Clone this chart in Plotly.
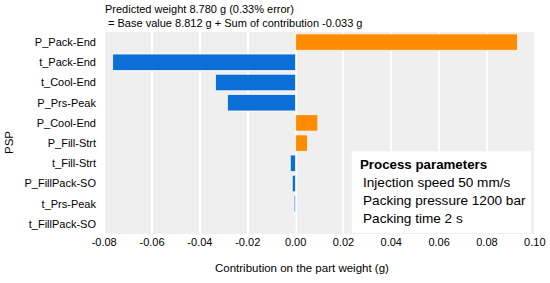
import plotly.graph_objects as go

categories = ["P_Pack-End", "t_Pack-End", "t_Cool-End", "P_Prs-Peak", "P_Cool-End",
              "P_Fill-Strt", "t_Fill-Strt", "P_FillPack-SO", "t_Prs-Peak", "t_FillPack-SO"]
values = [0.0928, -0.0765, -0.0335, -0.0285, 0.0093, 0.0050, -0.0022, -0.0014, -0.0006, -0.0002]
x_ticks = [-0.08, -0.06, -0.04, -0.02, 0.00, 0.02, 0.04, 0.06, 0.08, 0.10]
x_title = "Contribution on the part weight (g)"
y_title = "PSP"
title_lines = ["Predicted weight 8.780 g (0.33% error)",
               " = Base value 8.812 g + Sum of contribution -0.033 g"]
box_title = "Process parameters"
box_lines = ["Injection speed 50 mm/s", "Packing pressure 1200 bar", "Packing time 2 s"]

colors = ["#FF8C00" if v > 0 else "#0A6FD6" for v in values]
FONT = "Liberation Sans, Arial, sans-serif"

fig = go.Figure(go.Bar(
    x=values, y=categories, orientation="h",
    marker=dict(color=colors, line=dict(color="white", width=0.8)),
    width=0.82, hoverinfo="skip",
))

fig.update_layout(
    width=550, height=283,
    margin=dict(l=103, r=14, t=32, b=49),
    paper_bgcolor="white", plot_bgcolor="#EFEFEF",
    font=dict(family=FONT, size=11, color="#000000"),
    showlegend=False,
)
fig.update_xaxes(
    range=[-0.0805, 0.1005], tickvals=x_ticks,
    ticktext=[f"{t:.2f}" for t in x_ticks],
    showgrid=True, gridcolor="white", gridwidth=1.5,
    zeroline=False, ticks="", ticklabelstandoff=0, automargin=False,
    tickfont=dict(size=11),
)
fig.update_yaxes(
    categoryorder="array", categoryarray=categories,
    autorange="reversed", showgrid=False, zeroline=False, ticks="",
    ticklabelstandoff=6, tickfont=dict(size=11), automargin=False,
)

# axis titles (placed as in the reference, slightly off-centre)
fig.add_annotation(
    xref="paper", yref="paper", x=0.4596, y=-0.168,
    xanchor="center", yanchor="middle", showarrow=False,
    text=x_title, font=dict(size=11.5),
)
fig.add_annotation(
    xref="paper", yref="paper", x=0, xshift=-94, y=0.4505,
    xanchor="center", yanchor="middle", showarrow=False, textangle=-90,
    text=y_title, font=dict(size=11.5),
)

fig.add_annotation(
    xref="paper", yref="paper", x=0.0, y=1.0, yshift=1,
    xanchor="left", yanchor="bottom", align="left", showarrow=False,
    text="<br>".join(title_lines), font=dict(size=11),
)
fig.add_shape(type="rect", xref="x", yref="paper",
              x0=0.0235, x1=0.0985, y0=0.005, y1=0.41,
              fillcolor="white", line=dict(width=0), layer="above")

box_y = [0.2525, 0.1634, 0.0743]
fig.add_annotation(
    xref="x", yref="paper", x=0.0263, y=0.3465,
    xanchor="left", yanchor="middle", showarrow=False,
    text="<b>" + box_title + "</b>", font=dict(size=13.3),
)
for line, yy in zip(box_lines, box_y):
    fig.add_annotation(
        xref="x", yref="paper", x=0.0272, y=yy,
        xanchor="left", yanchor="middle", showarrow=False,
        text=line, font=dict(size=13.6),
    )

fig.write_html("out.html", config={"displayModeBar": False},
               post_script="document.body.style.margin='0px';")
